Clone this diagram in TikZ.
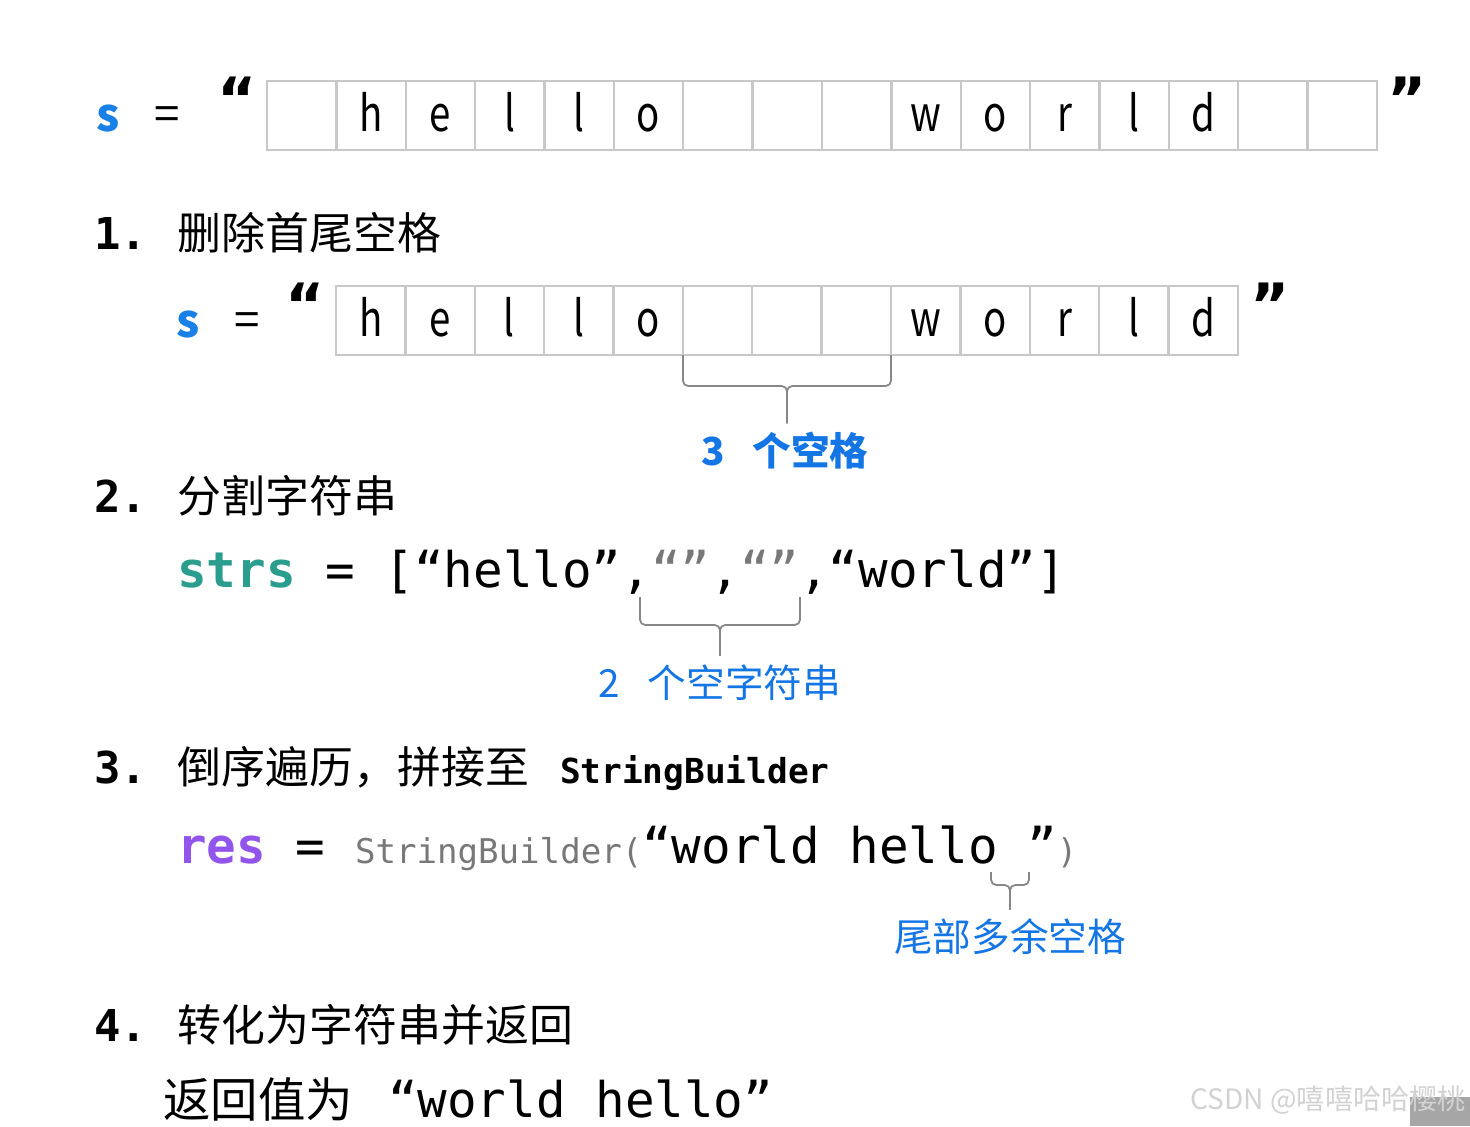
\documentclass[tikz,border=0pt]{standalone}
\usepackage{fontspec}
\setmainfont{Noto Sans CJK SC}
\setmonofont{DejaVu Sans Mono}
\newfontfamily\cellfont[FakeStretch=0.78]{Noto Sans CJK SC}
\newfontfamily\quotefont{DejaVu Sans}
\usetikzlibrary{positioning}

\definecolor{varblue}{RGB}{24,128,230}
\definecolor{noteblue}{RGB}{20,118,228}
\definecolor{strsteal}{RGB}{42,157,140}
\definecolor{respurple}{RGB}{145,85,235}
\definecolor{cellgray}{RGB}{200,200,200}
\definecolor{bracegray}{RGB}{135,135,135}
\definecolor{codegray}{RGB}{120,120,120}

\begin{document}
\begin{tikzpicture}[
    x=0.02cm, y=-0.02cm,
    cell/.style={draw=cellgray, line width=1.3pt, minimum width=1.3875cm, minimum height=1.38cm, inner sep=0pt, outer sep=0pt, text height=0.64cm, text depth=0pt, font=\cellfont\fontsize{28pt}{30pt}\selectfont},
    var/.style={anchor=base, inner sep=0pt, text=varblue, font=\bfseries\fontsize{26pt}{28pt}\selectfont},
    eq/.style={anchor=base, inner sep=0pt, font=\fontsize{26pt}{28pt}\selectfont},
    quote/.style={anchor=base, inner sep=0pt, font=\quotefont\bfseries\fontsize{34pt}{36pt}\selectfont},
    head/.style={anchor=base west, inner sep=0pt, font=\fontsize{25pt}{30pt}\selectfont},
    code/.style={anchor=base west, inner sep=0pt, font=\ttfamily\fontsize{28pt}{30pt}\selectfont},
    note/.style={inner sep=5pt, text=noteblue, font=\fontsize{22pt}{24pt}\selectfont},
    brk/.style={draw=bracegray, line width=1pt, rounded corners=3pt}
]
\useasboundingbox (0,0) rectangle (1470,1126);

% Input string
\node[var] (s0) at (108,131) {s};
\node[eq] (eq0) at (167,130) {=};
\node[quote] (q0l) at (237,120) {“};
\foreach \ch [count=\i] in {{},h,e,l,l,o,{},{},{},w,o,r,l,d,{},{}}
    \node[cell] (a\i) at ({267+69.375*(\i-0.5)},115.5) {\ch};
\node[quote] (q0r) at (1407,120) {”};

% Step 1
\node[head] (h1) at (94,249) {{\ttfamily\bfseries 1. }\hspace{0.08cm}删除首尾空格};
\node[var] (s1) at (188,337) {s};
\node[eq] (eq1) at (247,336) {=};
\node[quote] (q1l) at (305,326) {“};
\foreach \ch [count=\i] in {h,e,l,l,o,{},{},{},w,o,r,l,d}
    \node[cell] (b\i) at ({336+69.375*(\i-0.5)},320.5) {\ch};
\node[quote] (q1r) at (1270,326) {”};

\node[note, font=\bfseries\fontsize{22pt}{24pt}\selectfont] (n1) at (785,451) {3\hspace{0.55cm}个空格};
\coordinate (k1) at (787,386);
\draw[brk] (b6.south west) |- (k1) -- (k1 |- n1.north);
\draw[brk] (b8.south east) |- (k1) -- (k1 |- n1.north);

% Step 2
\node[head] (h2) at (94,512) {{\ttfamily\bfseries 2. }\hspace{0.08cm}分割字符串};
\node[code] (strs) at (177,587) {\textcolor{strsteal}{\bfseries strs} = [“hello”,\textcolor{codegray}{“”},\textcolor{codegray}{“”},“world”]};

\node[note] (n2) at (720,683) {2\hspace{0.55cm}个空字符串};
\coordinate (p2l) at (640,597);
\coordinate (p2r) at (800,597);
\coordinate (k2) at (720,625);
\draw[brk] (p2l) |- (k2) -- (k2 |- n2.north);
\draw[brk] (p2r) |- (k2) -- (k2 |- n2.north);

% Step 3
\node[head] (h3) at (94,783) {{\ttfamily\bfseries 3. }\hspace{0.08cm}倒序遍历，拼接至\hspace{0.62cm}{\ttfamily\bfseries\fontsize{19.6pt}{22pt}\selectfont StringBuilder}};
\node[code] (res) at (177,863) {\textcolor{respurple}{\bfseries res} = {\color{codegray}\fontsize{19.4pt}{22pt}\selectfont StringBuilder(}“world hello ”{\color{codegray}\fontsize{19.4pt}{22pt}\selectfont)}};

\node[note] (n3) at (1010,937) {尾部多余空格};
\coordinate (p3l) at (991,872);
\coordinate (p3r) at (1029,872);
\coordinate (k3) at (1010,885);
\draw[brk] (p3l) |- (k3) -- (k3 |- n3.north);
\draw[brk] (p3r) |- (k3) -- (k3 |- n3.north);

% Step 4
\node[head] (h4) at (94,1041) {{\ttfamily\bfseries 4. }\hspace{0.08cm}转化为字符串并返回};
\node[head, text depth=0pt] (ret) at (163,1117) {\fontsize{27pt}{30pt}\selectfont 返回值为\hspace{0.7cm}{\ttfamily\fontsize{28pt}{30pt}\selectfont “world hello”}};

% Watermark
\fill[gray!70] (1410,1097) rectangle (1470,1126);
\node[anchor=east, inner sep=0pt, text=gray!35, font=\fontsize{16pt}{18pt}\selectfont] (wm) at (1466,1100) {CSDN @嘻嘻哈哈樱桃};

\end{tikzpicture}
\end{document}
